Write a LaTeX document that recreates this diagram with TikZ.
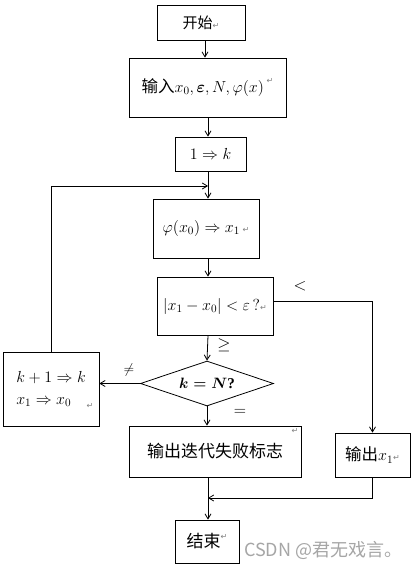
\RequirePackage{fix-cm}
\documentclass[tikz,border=0pt]{standalone}
\usepackage{amsmath}
\usepackage{fontspec}
\setmainfont{Liberation Serif}
\newfontfamily\cjk{Noto Sans CJK SC}
\newfontfamily\symf{DejaVu Sans}
\usetikzlibrary{shapes.geometric,arrows.meta}
\newcommand{\rmark}{{\symf\color{gray}\fontsize{8}{8}\selectfont ↵}}
\tikzset{
  box/.style={draw, thick, rectangle, inner sep=0pt, align=center, font=\fontsize{16}{19}\selectfont},
  arr/.style={thick, -{Straight Barb[length=5pt,width=6pt]}},
  ln/.style={thick},
  lab/.style={font=\fontsize{17}{17}\selectfont, inner sep=0pt}
}
\begin{document}
\begin{tikzpicture}[x=1pt,y=-1pt]
\useasboundingbox[fill=white] (0,0) rectangle (417,569);
\coordinate (cx) at (208,0);
\node[box, minimum width=88, minimum height=35] (start) at (201,22.5) {{\cjk\fontsize{15}{17}\selectfont 开始}\rmark};
\node[box, minimum width=157, minimum height=59] (input) at (207.5,87.5) {{\cjk\fontsize{16.5}{19}\selectfont 输入}$x_0,\boldsymbol{\varepsilon},N,\varphi(x)$\,\raisebox{1.2ex}{\rmark}};
\node[box, minimum width=71, minimum height=34] (init) at (210.5,154) {$1\Rightarrow k$};
\node[box, minimum width=106, minimum height=59] (phi) at (206,228.5) {$\varphi(x_0)\Rightarrow x_1$\,\rmark};
\node[box, minimum width=116, minimum height=58] (test) at (215,306) {$\left|x_1-x_0\right|<\varepsilon\,?$\rmark};
\node[draw, thick, diamond, aspect=2.95, minimum width=133, minimum height=45, inner sep=0pt, font=\fontsize{15}{18}\selectfont] (dia) at (207,383.5) {$\boldsymbol{k=N}$\textbf{?}};
\node[box, minimum width=96, minimum height=74, align=left] (upd) at (51,389) {$k+1\Rightarrow k$\\[3pt] $x_1\Rightarrow x_0$};
\node[inner sep=0pt] (updm) at (90,406) {\rmark};
\node[box, minimum width=172, minimum height=51] (fail) at (215,451.5) {\cjk\fontsize{17}{20}\selectfont 输出迭代失败标志};
\node[anchor=north east, inner sep=3pt] (failm) at (fail.north east) {\rmark};
\node[box, minimum width=75, minimum height=44] (out) at (372.5,455) {{\cjk\fontsize{16.5}{19}\selectfont 输出}$x_1$\rmark};
\node[box, minimum width=64, minimum height=43] (end) at (207,541.5) {{\cjk\fontsize{17}{20}\selectfont 结束}\raisebox{1.2ex}{\rmark}};
% connectors
\draw[arr] (start.south -| 205,0) -- (input.north -| 205,0);
\draw[arr] (input.south -| cx) -- (init.north -| cx);
\draw[arr] (init.south -| cx) -- (phi.north -| cx);
\draw[arr] (phi.south -| cx) -- (test.north -| cx);
\draw[arr] (test.south -| cx) -- (dia.north);
\draw[arr] (dia.south) -- (fail.north -| dia.south);
\draw[arr] (dia.west) -- (upd.east |- dia.west);
\coordinate (loopy) at (0,186);
\draw[arr] (upd.north) -- (upd.north |- loopy) -- (cx |- loopy);
\coordinate (ry) at (0,301);
\draw[arr] (test.east |- ry) -- (out.north |- ry) -- (out.north);
\coordinate (my) at (0,498);
\draw[ln] (out.south) -- (out.south |- my);
\draw[arr] (out.south |- my) -- (cx |- my);
\draw[arr] (fail.south -| cx) -- (end.north -| cx);
% labels
\node[lab] (lt) at (300,286) {$<$};
\node[lab] (ge) at (224,345) {$\geq$};
\node[lab, font=\fontsize{14}{14}\selectfont] (ne) at (129,370) {$\neq$};
\node[lab] (eq) at (240,412) {$=$};
\node[anchor=west, inner sep=0pt, text=gray!70, font=\cjk\fontsize{18}{18}\selectfont] (wm) at (244,550) {CSDN @君无戏言。};
\end{tikzpicture}
\end{document}
